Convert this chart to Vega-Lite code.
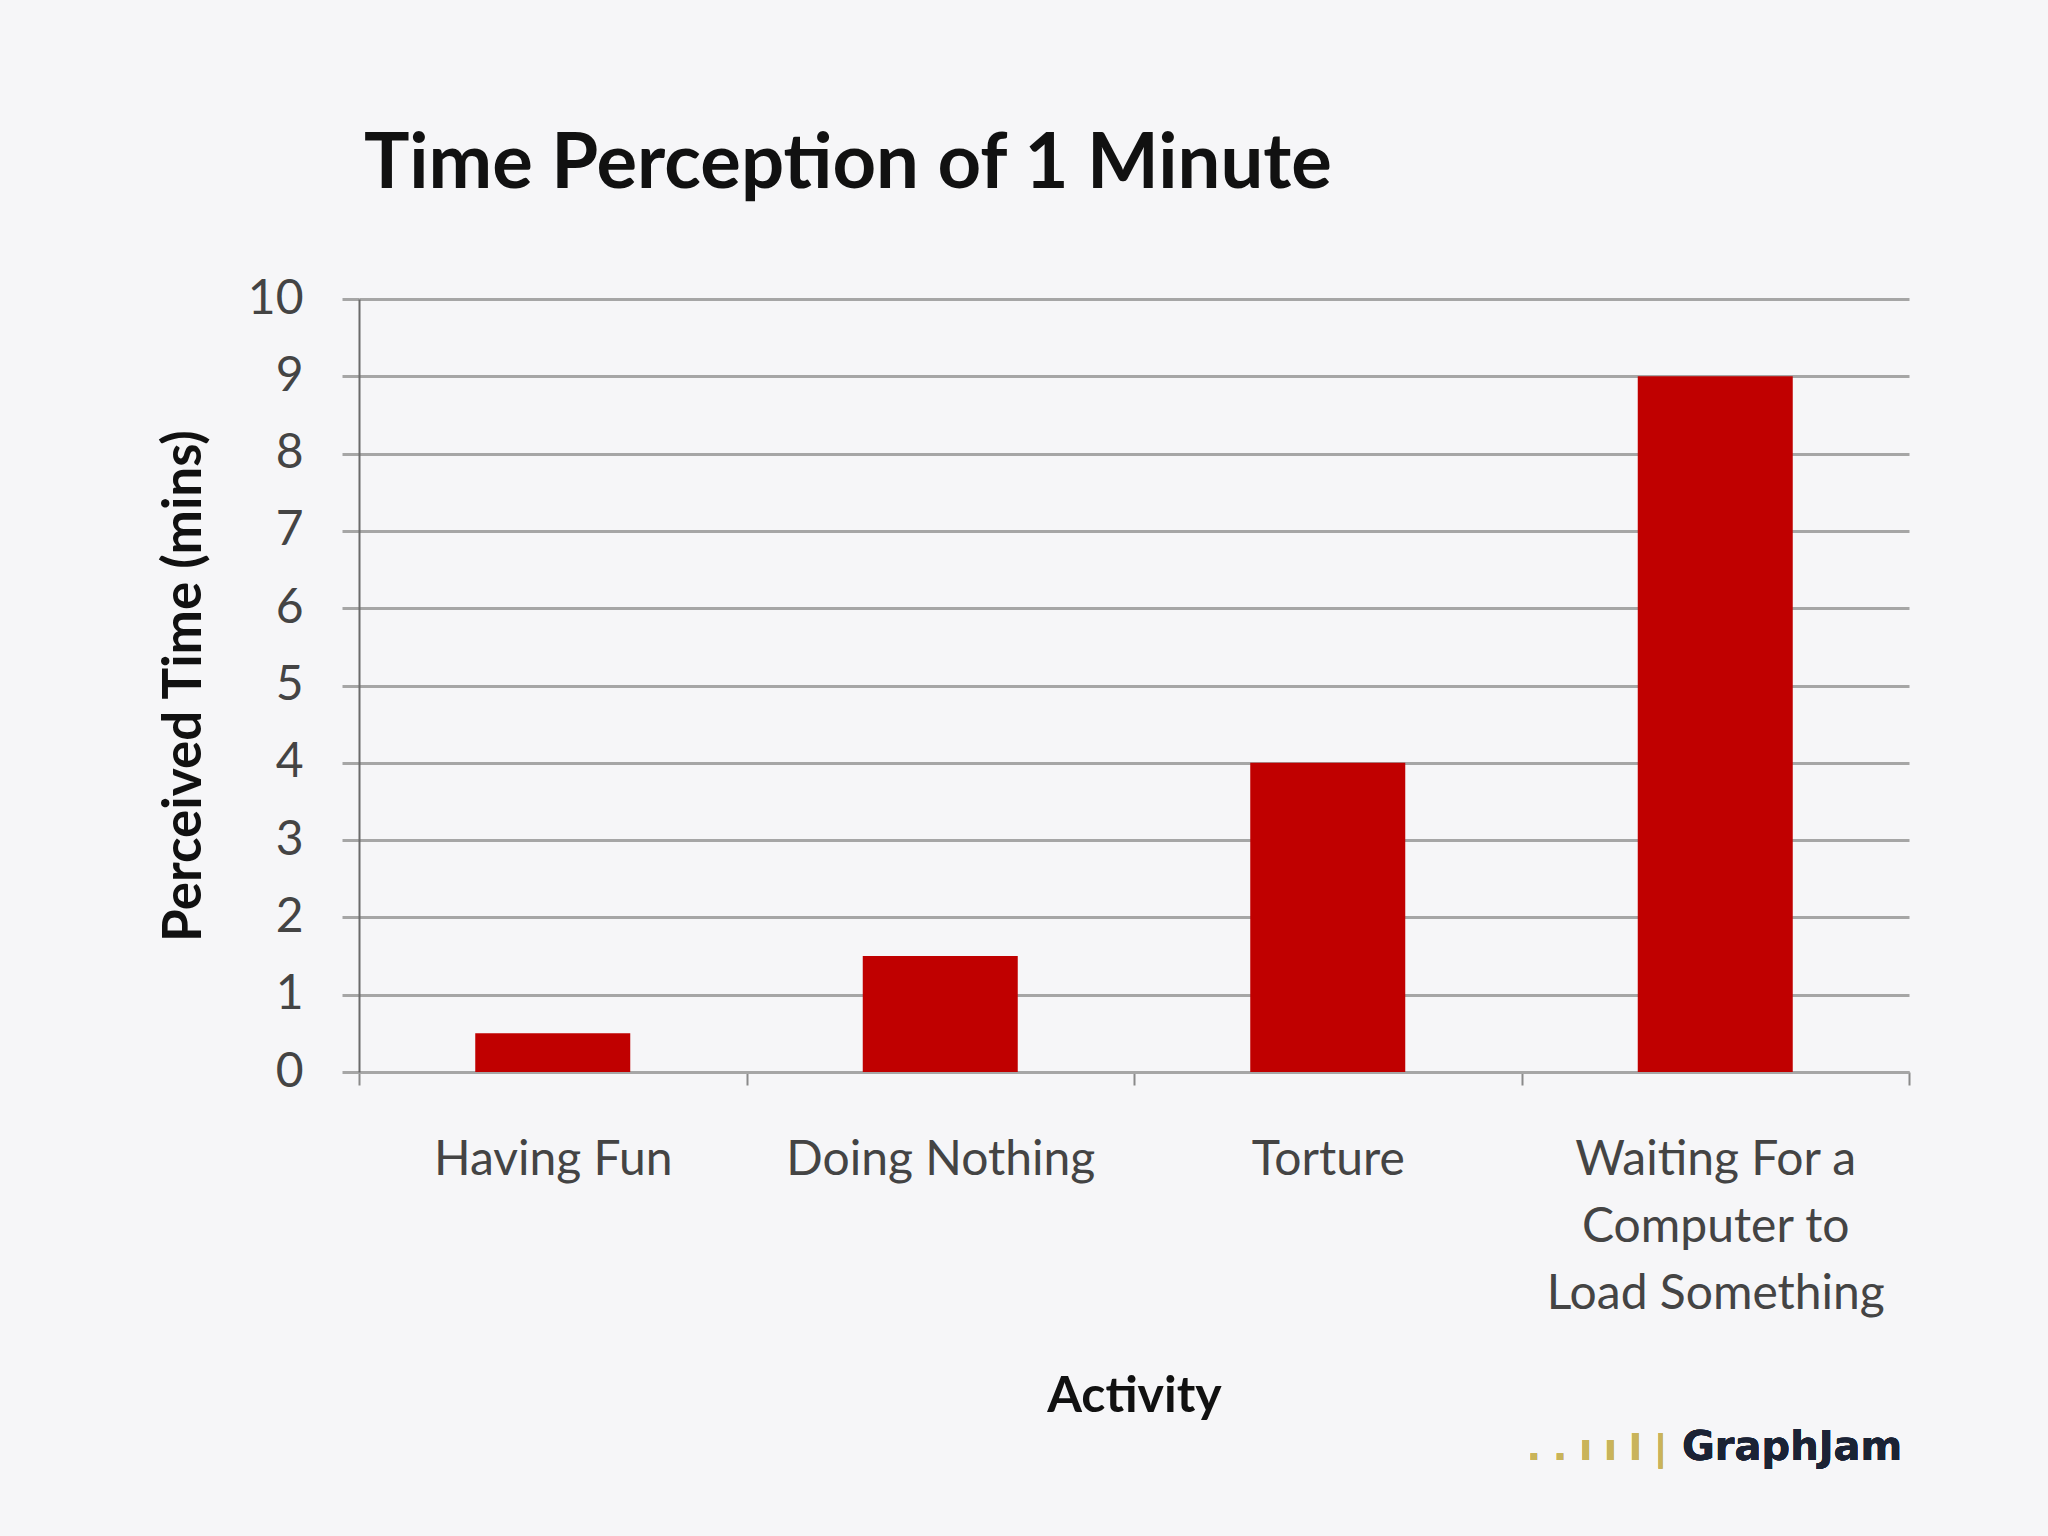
{
  "$schema": "https://vega.github.io/schema/vega-lite/v6.json",
  "width": 1550,
  "height": 773,
  "autosize": {"type": "none"},
  "padding": {"left": 359, "top": 299, "right": 139, "bottom": 464},
  "background": "#f6f6f8",
  "title": {
    "text": "Time Perception of 1 Minute",
    "anchor": "start",
    "frame": "group",
    "font": "Lato",
    "fontWeight": "bold",
    "fontSize": 76,
    "color": "#111111",
    "baseline": "alphabetic",
    "offset": 11,
    "dx": 5
  },
  "data": {
    "values": [
      {"activity": "Having Fun", "minutes": 0.5},
      {"activity": "Doing Nothing", "minutes": 1.5},
      {"activity": "Torture", "minutes": 4},
      {"activity": "Waiting For a Computer to Load Something", "minutes": 9}
    ]
  },
  "encoding": {
    "x": {
      "field": "activity",
      "type": "nominal",
      "sort": null,
      "scale": {"paddingInner": 0, "paddingOuter": 0},
      "axis": {
        "title": "Activity",
        "labelAngle": 0,
        "tickBand": "extent",
        "labelLimit": 0,
        "labelExpr": "datum.label == 'Waiting For a Computer to Load Something' ? ['Waiting For a', 'Computer to', 'Load Something'] : datum.label",
        "labelLineHeight": 67,
        "labelFont": "Lato",
        "labelFontSize": 48,
        "labelColor": "#444444",
        "labelPadding": 51,
        "tickSize": 13,
        "tickColor": "#8a8a8a",
        "tickWidth": 2,
        "domainColor": "#a6a6a6",
        "domainWidth": 3,
        "titleFont": "Lato",
        "titleFontWeight": "bold",
        "titleFontSize": 50,
        "titleColor": "#111111",
        "titlePadding": 99
      }
    }
  },
  "layer": [
    {
      "mark": {"type": "bar", "color": "#c00000", "width": {"band": 0.4}, "clip": false},
      "encoding": {
        "y": {
          "field": "minutes",
          "type": "quantitative",
          "scale": {"domain": [0, 10], "nice": false},
          "axis": {
            "title": "Perceived Time (mins)",
            "values": [0, 1, 2, 3, 4, 5, 6, 7, 8, 9, 10],
            "format": "d",
            "labelFont": "Lato",
            "labelFontSize": 48,
            "labelColor": "#444444",
            "labelPadding": 39,
            "tickSize": 17,
            "tickColor": "#a6a6a6",
            "tickWidth": 3,
            "domainColor": "#6b6b6b",
            "domainWidth": 2,
            "grid": true,
            "gridColor": "#a6a6a6",
            "gridWidth": 3,
            "titleFont": "Lato",
            "titleFontWeight": "bold",
            "titleFontSize": 53,
            "titleColor": "#111111",
            "titlePadding": 36
          }
        }
      }
    },
    {
      "mark": {"type": "text", "font": "DejaVu Sans", "fontWeight": "bold", "fontSize": 40, "color": "#1b2335", "align": "right", "baseline": "alphabetic", "dx": 187, "clip": false},
      "encoding": {
        "x": {"datum": "Waiting For a Computer to Load Something"},
        "y": {"datum": -5.02},
        "text": {"value": "GraphJam"}
      }
    },
    {
      "mark": {"type": "text", "font": "DejaVu Sans", "fontWeight": "bold", "fontSize": 36, "color": "#c9b45a", "align": "right", "baseline": "alphabetic", "dx": -48, "clip": false},
      "encoding": {
        "x": {"datum": "Waiting For a Computer to Load Something"},
        "y": {"datum": -5.02},
        "text": {"value": ". . ı ı l |"}
      }
    }
  ],
  "config": {
    "view": {"stroke": null}
  }
}
